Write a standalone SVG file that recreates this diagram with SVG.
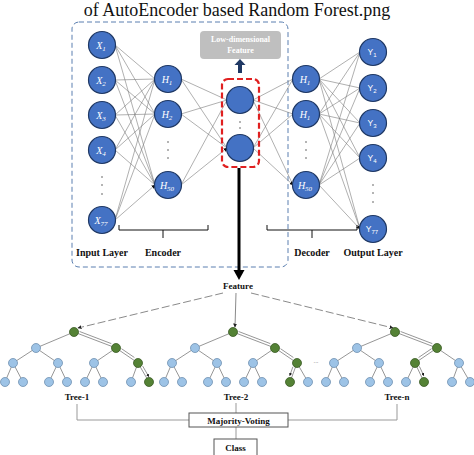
<svg xmlns="http://www.w3.org/2000/svg" width="474" height="455" viewBox="0 0 474 455">
<style>
.nn{fill:#4472c4;stroke:#1f3864;stroke-width:1.2}
.nl{fill:#fff;font-family:"Liberation Serif",serif;font-style:italic;font-size:10px;text-anchor:middle}
.yl{fill:#fff;font-family:"Liberation Sans",sans-serif;font-size:8.5px;text-anchor:middle}
.c{stroke:#7a7a7a;stroke-width:0.6;fill:none;marker-end:url(#sa)}
.lab{font-family:"Liberation Serif",serif;font-weight:bold;font-size:10px;fill:#111;text-anchor:middle}
.tl{font-family:"Liberation Serif",serif;font-weight:bold;font-size:9px;fill:#111;text-anchor:middle}
.br{stroke:#111;stroke-width:1;fill:none}
.dot{fill:#555}
.te{stroke:#8a8a8a;stroke-width:0.9;fill:none}
.tp{stroke:#8a8a8a;stroke-width:0.9;fill:none;marker-end:url(#ta)}
.tb{fill:#9dc3e6;stroke:#6f8fb0;stroke-width:0.8}
.tg{fill:#548235;stroke:#3a5a24;stroke-width:0.8}
.box{fill:#fff;stroke:#555;stroke-width:1}
.ln{stroke:#999;stroke-width:1;fill:none}
</style>
<defs>
<marker id="sa" markerWidth="4" markerHeight="4" refX="3.5" refY="2" orient="auto" markerUnits="userSpaceOnUse"><path d="M0,0 L4,2 L0,4 Z" fill="#111"/></marker>
<marker id="ta" markerWidth="3" markerHeight="3" refX="2.5" refY="1.5" orient="auto" markerUnits="userSpaceOnUse"><path d="M0,0 L3,1.5 L0,3 Z" fill="#111"/></marker>
<marker id="fa" markerWidth="4" markerHeight="4" refX="3.5" refY="2" orient="auto" markerUnits="userSpaceOnUse"><path d="M0,0 L4,2 L0,4 Z" fill="#222"/></marker>
</defs>
<rect width="474" height="455" fill="#fff"/>
<text x="237" y="16" font-family="Liberation Serif,serif" font-size="18" text-anchor="middle" fill="#111">of AutoEncoder based Random Forest.png</text>

<!-- frame -->
<rect id="encoder-frame" x="72" y="22" width="216" height="245" rx="7" fill="none" stroke="#5b7fb0" stroke-width="1" stroke-dasharray="5,3"/>

<!-- connectors -->
<g id="connectors">
<!-- X -> H -->
<path class="c" d="M115,45L155,79M115,45L155,114M115,45L155,185
M115,80L155,79M115,80L155,114M115,80L155,185
M115,115L155,79M115,115L155,114M115,115L155,185
M115,150L155,79M115,150L155,114M115,150L155,185
M115,220L155,79M115,220L155,114M115,220L155,185"/>
<!-- H -> M -->
<path class="c" d="M181,79L227,100M181,79L227,148M181,114L227,100M181,114L227,148M181,185L227,100M181,185L227,148"/>
<!-- M -> D -->
<path class="c" d="M253,100L293,79M253,100L293,114M253,100L293,185M253,148L293,79M253,148L293,114M253,148L293,185"/>
<!-- D -> Y -->
<path class="c" d="M319,79L360,52M319,79L360,88M319,79L360,123M319,79L360,158M319,79L360,229
M319,114L360,52M319,114L360,88M319,114L360,123M319,114L360,158M319,114L360,229
M319,185L360,52M319,185L360,88M319,185L360,123M319,185L360,158M319,185L360,229"/>
<!-- feature arrow -->
<line x1="239" y1="168" x2="239" y2="272" stroke="#000" stroke-width="3"/>
<path d="M233.5,270 L244.5,270 L239,280 Z" fill="#000"/>
<!-- low-dim arrow -->
<rect x="238" y="64" width="4" height="9" fill="#1f3864"/>
<path d="M234.5,65 L245.5,65 L240,59 Z" fill="#1f3864"/>
<!-- feature to trees -->
<line x1="223" y1="293" x2="78" y2="328" stroke="#8a8a8a" stroke-width="1" stroke-dasharray="8,3" marker-end="url(#fa)"/>
<line x1="236" y1="293" x2="235" y2="327" stroke="#8a8a8a" stroke-width="1" marker-end="url(#fa)"/>
<line x1="251" y1="293" x2="393" y2="328" stroke="#8a8a8a" stroke-width="1" stroke-dasharray="8,3" marker-end="url(#fa)"/>
<!-- trees to voting -->
<path class="ln" d="M77,404 V420 H189"/>
<path class="ln" d="M236,403 V413"/>
<path class="ln" d="M397,404 V420 H288"/>
<path class="ln" d="M236,427 V439"/>
</g>

<!-- brackets -->
<path class="br" d="M119,225 V230 H208 V225 M163,230 V238"/>
<path class="br" d="M267,225 V230 H357 V225 M312,230 V238"/>

<!-- input nodes -->
<g id="x1"><circle class="nn" cx="102" cy="45" r="13.5"/><text class="nl" x="101" y="49">X<tspan font-size="7" dy="2">1</tspan></text></g>
<g id="x2"><circle class="nn" cx="102" cy="80" r="13.5"/><text class="nl" x="101" y="84">X<tspan font-size="7" dy="2">2</tspan></text></g>
<g id="x3"><circle class="nn" cx="102" cy="115" r="13.5"/><text class="nl" x="101" y="119">X<tspan font-size="7" dy="2">3</tspan></text></g>
<g id="x4"><circle class="nn" cx="102" cy="150" r="13.5"/><text class="nl" x="101" y="154">X<tspan font-size="7" dy="2">4</tspan></text></g>
<g id="x77"><circle class="nn" cx="102" cy="220" r="13.5"/><text class="nl" x="101" y="224">X<tspan font-size="7" dy="2">77</tspan></text></g>
<g class="dot"><circle cx="102" cy="177" r="0.8"/><circle cx="102" cy="185" r="0.8"/><circle cx="102" cy="194" r="0.8"/>
<circle cx="168" cy="142" r="0.8"/><circle cx="168" cy="150" r="0.8"/><circle cx="168" cy="158" r="0.8"/>
<circle cx="240" cy="122" r="0.8"/><circle cx="240" cy="128" r="0.8"/>
<circle cx="306" cy="142" r="0.8"/><circle cx="306" cy="150" r="0.8"/><circle cx="306" cy="158" r="0.8"/>
<circle cx="373" cy="185" r="0.8"/><circle cx="373" cy="193" r="0.8"/><circle cx="373" cy="202" r="0.8"/></g>

<!-- encoder nodes -->
<g id="h1"><circle class="nn" cx="168" cy="79" r="13.5"/><text class="nl" x="167" y="83">H<tspan font-size="7" dy="2">1</tspan></text></g>
<g id="h2"><circle class="nn" cx="168" cy="114" r="13.5"/><text class="nl" x="167" y="118">H<tspan font-size="7" dy="2">2</tspan></text></g>
<g id="h50"><circle class="nn" cx="168" cy="185" r="13.5"/><text class="nl" x="167" y="189">H<tspan font-size="7" dy="2">50</tspan></text></g>

<!-- bottleneck -->
<g id="bottleneck">
<rect x="222" y="79" width="37" height="88" rx="6" fill="none" stroke="#e02020" stroke-width="2.2" stroke-dasharray="6,3"/>
<circle class="nn" cx="240" cy="100" r="13.5"/>
<circle class="nn" cx="240" cy="148" r="13.5"/>
</g>
<g id="lowdim">
<rect x="200" y="31" width="81" height="28" rx="4" fill="#bfbfbf"/>
<text x="240.5" y="42" font-family="Liberation Serif,serif" font-weight="bold" font-size="8" fill="#fff" text-anchor="middle">Low-dimensional</text>
<text x="240.5" y="53" font-family="Liberation Serif,serif" font-weight="bold" font-size="8" fill="#fff" text-anchor="middle">Feature</text>
</g>

<!-- decoder nodes -->
<g id="d1"><circle class="nn" cx="306" cy="79" r="13.5"/><text class="nl" x="305" y="83">H<tspan font-size="7" dy="2">1</tspan></text></g>
<g id="d2"><circle class="nn" cx="306" cy="114" r="13.5"/><text class="nl" x="305" y="118">H<tspan font-size="7" dy="2">1</tspan></text></g>
<g id="d50"><circle class="nn" cx="306" cy="185" r="13.5"/><text class="nl" x="305" y="189">H<tspan font-size="7" dy="2">50</tspan></text></g>

<!-- output nodes -->
<g id="y1"><circle class="nn" cx="373" cy="52" r="13.5"/><text class="yl" x="372" y="55">Y<tspan font-size="6" dy="2">1</tspan></text></g>
<g id="y2"><circle class="nn" cx="373" cy="88" r="13.5"/><text class="yl" x="372" y="91">Y<tspan font-size="6" dy="2">2</tspan></text></g>
<g id="y3"><circle class="nn" cx="373" cy="123" r="13.5"/><text class="yl" x="372" y="126">Y<tspan font-size="6" dy="2">3</tspan></text></g>
<g id="y4"><circle class="nn" cx="373" cy="158" r="13.5"/><text class="yl" x="372" y="161">Y<tspan font-size="6" dy="2">4</tspan></text></g>
<g id="y77"><circle class="nn" cx="373" cy="229" r="13.5"/><text class="yl" x="372" y="232">Y<tspan font-size="6" dy="2">77</tspan></text></g>

<!-- labels -->
<text class="lab" x="102" y="256">Input Layer</text>
<text class="lab" x="163" y="256">Encoder</text>
<text class="lab" x="312" y="256">Decoder</text>
<text class="lab" x="373" y="256">Output Layer</text>
<text class="tl" x="238" y="289">Feature</text>

<!-- tree 1 -->
<g id="tree-1">
<path class="te" d="M74,332L36,348M74,332L116,348M36,348L13,363M36,348L58,363M116,348L94,363M116,348L138,363
M13,363L5,382M13,363L23,382M58,363L49,382M58,363L67,382M94,363L85,382M94,363L103,382M138,363L131,382M138,363L149,382"/>
<path class="tp" d="M79.6,331.5L111.3,343.6M121.5,348.7L134.4,357.5M142.7,366.1L148.7,376.5"/>
<circle class="tg" cx="74" cy="332" r="4.5"/>
<circle class="tb" cx="36" cy="348" r="4.5"/><circle class="tg" cx="116" cy="348" r="4.5"/>
<circle class="tb" cx="13" cy="363" r="4.5"/><circle class="tb" cx="58" cy="363" r="4.5"/><circle class="tb" cx="94" cy="363" r="4.5"/><circle class="tg" cx="138" cy="363" r="4.5"/>
<circle class="tb" cx="5" cy="382" r="4.5"/><circle class="tb" cx="23" cy="382" r="4.5"/><circle class="tb" cx="49" cy="382" r="4.5"/><circle class="tb" cx="67" cy="382" r="4.5"/>
<circle class="tb" cx="85" cy="382" r="4.5"/><circle class="tb" cx="103" cy="382" r="4.5"/><circle class="tb" cx="131" cy="382" r="4.5"/><circle class="tg" cx="149" cy="382" r="4.5"/>
<text class="tl" x="77" y="400">Tree-1</text>
</g>

<!-- tree 2 -->
<g id="tree-2">
<path class="te" d="M233,332L195,348M233,332L275,348M195,348L172,363M195,348L217,363M275,348L253,363M275,348L297,363
M172,363L164,382M172,363L182,382M217,363L208,382M217,363L226,382M253,363L244,382M253,363L262,382M297,363L290,382M297,363L308,382"/>
<path class="tp" d="M238.6,331.5L270.3,343.6M280.5,348.7L293.4,357.5M292.9,366.8L289.8,375.5"/>
<circle class="tg" cx="233" cy="332" r="4.5"/>
<circle class="tb" cx="195" cy="348" r="4.5"/><circle class="tg" cx="275" cy="348" r="4.5"/>
<circle class="tb" cx="172" cy="363" r="4.5"/><circle class="tb" cx="217" cy="363" r="4.5"/><circle class="tb" cx="253" cy="363" r="4.5"/><circle class="tg" cx="297" cy="363" r="4.5"/>
<circle class="tb" cx="164" cy="382" r="4.5"/><circle class="tb" cx="182" cy="382" r="4.5"/><circle class="tb" cx="208" cy="382" r="4.5"/><circle class="tb" cx="226" cy="382" r="4.5"/>
<circle class="tb" cx="244" cy="382" r="4.5"/><circle class="tb" cx="262" cy="382" r="4.5"/><circle class="tg" cx="290" cy="382" r="4.5"/><circle class="tb" cx="308" cy="382" r="4.5"/>
<text class="tl" x="236" y="400">Tree-2</text>
</g>
<text x="316" y="363" font-family="Liberation Sans,sans-serif" font-size="6" fill="#555" text-anchor="middle">...</text>

<!-- tree n -->
<g id="tree-n">
<path class="te" d="M395,332L357,348M395,332L437,348M357,348L334,363M357,348L379,363M437,348L415,363M437,348L459,363
M334,363L326,382M334,363L344,382M379,363L370,382M379,363L388,382M415,363L406,382M415,363L424,382M459,363L452,382M459,363L470,382"/>
<path class="tp" d="M400.6,331.5L432.3,343.6M431.5,348.7L418.6,357.5M419.4,366.4L423.7,375.5"/>
<circle class="tg" cx="395" cy="332" r="4.5"/>
<circle class="tb" cx="357" cy="348" r="4.5"/><circle class="tg" cx="437" cy="348" r="4.5"/>
<circle class="tb" cx="334" cy="363" r="4.5"/><circle class="tb" cx="379" cy="363" r="4.5"/><circle class="tg" cx="415" cy="363" r="4.5"/><circle class="tb" cx="459" cy="363" r="4.5"/>
<circle class="tb" cx="326" cy="382" r="4.5"/><circle class="tb" cx="344" cy="382" r="4.5"/><circle class="tb" cx="370" cy="382" r="4.5"/><circle class="tb" cx="388" cy="382" r="4.5"/>
<circle class="tb" cx="406" cy="382" r="4.5"/><circle class="tg" cx="424" cy="382" r="4.5"/><circle class="tb" cx="452" cy="382" r="4.5"/><circle class="tb" cx="470" cy="382" r="4.5"/>
<text class="tl" x="397" y="400">Tree-n</text>
</g>

<g id="majority-voting">
<rect class="box" x="189" y="413" width="99" height="14"/>
<text class="tl" x="238.5" y="423.5">Majority-Voting</text>
</g>
<g id="class">
<rect class="box" x="214" y="439" width="43" height="17"/>
<text class="tl" x="235.5" y="451">Class</text>
</g>
</svg>
